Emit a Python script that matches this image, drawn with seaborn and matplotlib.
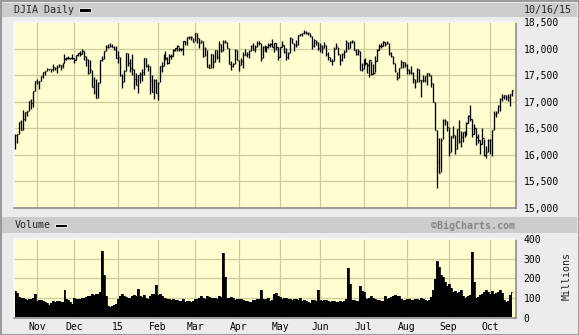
import numpy as np
import pandas as pd
import matplotlib
matplotlib.use("Agg")
import matplotlib.pyplot as plt
import seaborn as sns
from matplotlib.patches import Rectangle

# ---------------- data ----------------
first_day = "2014-10-17"
last_day = "2015-10-16"
holidays = ["2014-11-27", "2014-12-25", "2015-01-01", "2015-01-19", "2015-02-16",
            "2015-04-03", "2015-05-25", "2015-07-03", "2015-09-07"]

close = [16380, 16400, 16615, 16462, 16677, 16805, 16818, 17006, 16975, 17196, 17391,
         17366, 17384, 17484, 17554, 17573, 17613, 17615, 17612, 17652, 17635, 17648,
         17688, 17685, 17720, 17810, 17818, 17815, 17828, 17828, 17777, 17880, 17913,
         17901, 17959, 17853, 17801, 17533, 17597, 17281, 17180, 17068, 17356, 17778,
         17805, 17959, 18024, 18030, 18053, 18038, 17983, 17823, 17833, 17501, 17371,
         17585, 17908, 17737, 17640, 17613, 17427, 17321, 17512, 17515, 17554, 17814,
         17672, 17678, 17387, 17191, 17416, 17165, 17361, 17666, 17673, 17885, 17825,
         17730, 17868, 17863, 17973, 18019, 18047, 17987, 17986, 18141, 18117, 18209,
         18225, 18214, 18133, 18289, 18204, 18097, 18136, 17857, 17996, 17662, 17636,
         17895, 17749, 17977, 17849, 18077, 17959, 18128, 18116, 18011, 17718, 17678,
         17713, 17977, 17776, 17698, 17763, 17881, 17876, 17903, 17958, 18057, 17977,
         18037, 18113, 18106, 17826, 18034, 17950, 18038, 18058, 18080, 18038, 18110,
         18036, 17841, 18024, 18070, 17928, 17842, 17925, 18191, 18105, 18069, 18060,
         18252, 18272, 18298, 18312, 18285, 18285, 18232, 18042, 18163, 18126, 18011,
         18041, 18011, 18076, 17906, 17849, 17766, 17765, 18001, 18040, 17899, 17792,
         17905, 17935, 18116, 18015, 18120, 18144, 17967, 17891, 17947, 17597, 17620,
         17758, 17731, 17684, 17776, 17515, 17549, 17760, 17978, 18054, 18051, 18121,
         18087, 18101, 17920, 17851, 17732, 17569, 17441, 17631, 17752, 17746, 17690,
         17599, 17551, 17541, 17420, 17373, 17615, 17403, 17402, 17409, 17477, 17546,
         17512, 17349, 16990, 16460, 15871, 15666, 16285, 16655, 16643, 16528, 16058,
         16351, 16374, 16102, 16492, 16253, 16330, 16433, 16370, 16599, 16740, 16675,
         16384, 16510, 16330, 16280, 16201, 16315, 16001, 16049, 16285, 16272, 16472,
         16777, 16791, 16912, 17050, 17084, 17131, 17082, 17081, 17141, 17216]

high = [16400, 16400, 16615, 16651, 16836, 16810, 16818, 17006, 17058, 17196, 17395,
        17428, 17397, 17484, 17558, 17577, 17626, 17625, 17615, 17705, 17658, 17684,
        17703, 17690, 17720, 17895, 17844, 17854, 17829, 17895, 17830, 17884, 17914,
        17960, 17991, 17958, 17853, 17801, 17789, 17596, 17470, 17426, 17374, 17779,
        17869, 17963, 18069, 18086, 18104, 18081, 18039, 18043, 17952, 17838, 17513,
        17597, 17916, 17917, 17800, 17900, 17611, 17543, 17512, 17562, 17608, 17817,
        17814, 17701, 17678, 17495, 17431, 17424, 17362, 17667, 17752, 17902, 17951,
        17837, 17892, 17890, 17988, 18020, 18063, 18038, 18010, 18147, 18140, 18224,
        18244, 18245, 18207, 18289, 18288, 18203, 18169, 18136, 18023, 17975, 17717,
        17899, 17896, 17978, 17977, 18135, 18077, 18160, 18160, 18130, 18015, 17762,
        17731, 17990, 17977, 17776, 17820, 17930, 17984, 17941, 17968, 18062, 18105,
        18074, 18142, 18139, 18105, 18050, 18069, 18055, 18110, 18105, 18175, 18111,
        18110, 18036, 18025, 18137, 18071, 18002, 17943, 18209, 18195, 18104, 18162,
        18253, 18279, 18302, 18351, 18331, 18304, 18286, 18233, 18183, 18164, 18126,
        18101, 18059, 18127, 18076, 17928, 17850, 17798, 18024, 18101, 18038, 17899,
        17918, 17976, 18155, 18117, 18145, 18152, 18145, 18000, 17987, 17946, 17737,
        17812, 17814, 17732, 17776, 17775, 17717, 17858, 17983, 18081, 18099, 18141,
        18128, 18137, 18102, 17929, 17861, 17734, 17568, 17632, 17788, 17751, 17750,
        17705, 17611, 17665, 17550, 17419, 17642, 17614, 17402, 17511, 17485, 17548,
        17546, 17511, 17348, 16990, 16459, 16312, 16312, 16666, 16667, 16640, 16528,
        16352, 16551, 16373, 16493, 16664, 16450, 16434, 16444, 16620, 16755, 16933,
        16674, 16582, 16509, 16397, 16281, 16504, 16305, 16174, 16301, 16294, 16473,
        16834, 16823, 16941, 17062, 17142, 17131, 17133, 17140, 17143, 17217]

low = [16117, 16217, 16400, 16459, 16462, 16640, 16725, 16818, 16867, 16902, 17197,
       17329, 17238, 17384, 17437, 17497, 17570, 17593, 17555, 17584, 17591, 17540,
       17645, 17590, 17627, 17721, 17785, 17805, 17804, 17806, 17727, 17778, 17868,
       17859, 17902, 17784, 17668, 17514, 17534, 17280, 17151, 17067, 17069, 17357,
       17765, 17805, 17960, 18011, 18030, 18034, 17970, 17821, 17731, 17489, 17262,
       17372, 17586, 17678, 17561, 17512, 17243, 17310, 17158, 17355, 17399, 17508,
       17655, 17578, 17136, 17185, 17047, 17163, 17038, 17363, 17556, 17677, 17776,
       17711, 17731, 17801, 17866, 17949, 17960, 17948, 17946, 17872, 18070, 18068,
       18172, 18164, 18133, 18134, 18114, 18012, 18097, 17837, 17856, 17660, 17635,
       17637, 17630, 17749, 17808, 17743, 17937, 17960, 18101, 18009, 17716, 17599,
       17646, 17714, 17776, 17579, 17695, 17638, 17875, 17850, 17817, 17957, 17976,
       17931, 18037, 18072, 17757, 17828, 17949, 17930, 18009, 18034, 18027, 17939,
       17977, 17794, 17842, 18025, 17916, 17778, 17795, 17926, 18104, 17950, 18031,
       18060, 18238, 18231, 18281, 18265, 18248, 18219, 17991, 18036, 18071, 17967,
       17944, 17913, 18012, 17867, 17778, 17763, 17683, 17766, 18001, 17872, 17683,
       17766, 17822, 17936, 17988, 18016, 18104, 17966, 17886, 17880, 17596, 17587,
       17621, 17694, 17543, 17465, 17502, 17516, 17550, 17761, 17978, 18017, 18053,
       18057, 18087, 17880, 17844, 17714, 17557, 17400, 17441, 17630, 17637, 17656,
       17520, 17513, 17521, 17359, 17263, 17375, 17364, 17091, 17366, 17375, 17321,
       17482, 17273, 16990, 16459, 15370, 15651, 15676, 16290, 16553, 16451, 15980,
       16059, 16319, 16012, 16102, 16221, 16145, 16245, 16330, 16372, 16598, 16639,
       16344, 16385, 16177, 16222, 16016, 16200, 15981, 15943, 16051, 16014, 15979,
       16476, 16706, 16792, 16823, 17020, 17054, 17030, 17021, 16925, 17111]

volume = [136, 125, 104, 100, 100, 95, 88, 92, 92, 98, 122,
          85, 88, 90, 86, 80, 74, 66, 72, 82, 80, 84, 82, 78, 80, 140,
          95, 88, 80, 70,
          100, 95, 92, 95, 100, 98, 105, 112, 108, 118, 115, 122, 118, 128, 341,
          215, 110, 58, 52, 60, 62, 70, 95,
          110, 118, 112, 105, 100, 98, 108, 115, 110, 143,
          110, 105, 115, 100, 95, 112, 118, 120, 166,
          115, 118, 110, 100, 98, 92, 96, 90, 92, 88,
          90, 85, 82, 95, 80, 82, 85, 78, 82,
          92, 95, 98, 108, 100, 95, 112, 105, 100, 98, 100, 95, 112, 105, 328,
          205, 100, 98, 105, 100, 90, 95,
          95, 92, 88, 85, 82, 80, 78, 88, 90, 95, 92, 138,
          95, 88, 92, 100, 85, 90, 118, 125, 110, 105,
          92, 98, 100, 95, 92, 90, 92, 95, 88, 100, 85, 88, 82, 80, 75,
          90, 88, 85, 140,
          88, 85, 88, 90, 85, 80, 82, 85, 80, 78, 82, 80, 85, 95, 251,
          170, 90, 88, 85, 82, 160, 135, 130, 100,
          95, 100, 110, 98, 95, 90, 88, 85, 82, 110,
          95, 100, 105, 110, 115, 108, 112, 95, 90, 88,
          95, 92, 90, 88, 95, 92, 90, 100, 92, 88, 85, 90, 105, 140, 195,
          290, 255, 215, 205, 180, 160, 170, 150, 130, 135, 125, 130, 140, 110,
          100, 105, 110, 115, 333, 180, 100, 105, 115, 120,
          130, 140, 128, 120, 135, 120, 125, 130, 140, 125,
          90, 80, 85, 115, 130]

month_labels = ["Nov", "Dec", "15", "Feb", "Mar", "Apr", "May", "Jun", "Jul", "Aug", "Sep", "Oct"]
price_ticks = [15000, 15500, 16000, 16500, 17000, 17500, 18000, 18500]
volume_ticks = [0, 100, 200, 300, 400]

# ---------------- build frame ----------------
days = pd.bdate_range(first_day, last_day)
days = days[~days.isin(pd.to_datetime(holidays))]
n = len(days)
assert n == len(close) == len(high) == len(low) == len(volume), (n, len(close), len(high), len(low), len(volume))
df = pd.DataFrame({"date": days, "idx": np.arange(n), "close": close,
                   "high": high, "low": low, "volume": volume})
month_start = df.index[df["date"].dt.month != df["date"].dt.month.shift(1)].tolist()[1:]

# ---------------- style ----------------
sns.set_style("white")
plt.rcParams['font.family'] = ['DejaVu Sans Mono', 'DejaVu Sans']

W, H = 579, 335
BG = '#ececec'
PANEL = '#fefed0'
GRID = '#cccc99'
HEAD = '#cccccc'
fig = plt.figure(figsize=(W / 100, H / 100), dpi=100, facecolor=BG)


def fx(x):
    return x / W


def fy(y):
    return 1 - y / H


# header bars
fig.patches.append(Rectangle((fx(2), fy(17)), fx(575), 13.5 / H, transform=fig.transFigure,
                             facecolor=HEAD, edgecolor='none', zorder=0))
fig.patches.append(Rectangle((fx(2), fy(233)), fx(575), 16 / H, transform=fig.transFigure,
                             facecolor=HEAD, edgecolor='none', zorder=0))
fig.patches.append(Rectangle((0, 0), 1, 1, transform=fig.transFigure, fill=False,
                             edgecolor='#9a9a9a', lw=2.2, zorder=5))

XL = (-0.5, 253)

ax_p = fig.add_axes([fx(14), fy(208), 502 / W, 186 / H])
ax_v = fig.add_axes([fx(14), fy(317.5), 502 / W, 78.5 / H])

for ax in (ax_p, ax_v):
    ax.set_facecolor(PANEL)
    ax.set_xlim(*XL)
    for m in month_start:
        ax.axvline(m, color=GRID, lw=0.9, zorder=0.5)
    ax.spines['top'].set_color('#f8f8f8')
    ax.spines['left'].set_color('#f8f8f8')
    ax.spines['right'].set_color('#8c8c8c')
    ax.spines['bottom'].set_color('#8c8c8c')
    for s in ax.spines.values():
        s.set_linewidth(1.2)
    ax.yaxis.tick_right()
    ax.tick_params(axis='y', length=0, labelsize=7, pad=5.5, colors='black')

# ---- price panel (HLC bars) ----
ax_p.set_ylim(price_ticks[0], price_ticks[-1])
for v in price_ticks[1:-1]:
    ax_p.axhline(v, color=GRID, lw=0.9, zorder=0.5)
ax_p.vlines(df["idx"], df["low"], df["high"], color='black', lw=0.95, zorder=3)
ax_p.hlines(df["close"], df["idx"], df["idx"] + 0.6, color='black', lw=0.95, zorder=3)
ax_p.set_yticks(price_ticks)
ax_p.set_yticklabels([f"{v:,}" for v in price_ticks])
ax_p.set_xticks([])
ax_p.set_xlabel("")
ax_p.set_ylabel("")

# ---- volume panel ----
ax_v.set_ylim(volume_ticks[0], volume_ticks[-1])
for v in volume_ticks[1:-1]:
    ax_v.axhline(v, color=GRID, lw=0.9, zorder=0.5)
ax_v.fill_between(df["idx"], 0, df["volume"], step='mid', color='black', lw=0, zorder=2)
sns.lineplot(data=df, x="idx", y="volume", ax=ax_v, color='black', lw=0.6,
             drawstyle='steps-mid', zorder=3)
ax_v.set_xlim(*XL)
ax_v.set_yticks(volume_ticks)
ax_v.set_yticklabels([str(v) for v in volume_ticks])
ax_v.set_xticks(month_start)
ax_v.set_xticklabels(month_labels)
ax_v.tick_params(axis='x', length=0, labelsize=7, pad=3, colors='black')
ax_v.set_xlabel("")
ax_v.set_ylabel("")

# ---- texts ----
fig.text(fx(14.5), fy(10), "DJIA Daily", fontsize=7.2, ha='left', va='center')
fig.patches.append(Rectangle((fx(79), fy(11.6)), 12 / W, 3.2 / H, transform=fig.transFigure,
                             facecolor='black', edgecolor='white', lw=0.6, zorder=2))
fig.text(fx(572), fy(9.8), "10/16/15", fontsize=7.2, ha='right', va='center')
fig.text(fx(14.5), fy(225.5), "Volume", fontsize=7.2, ha='left', va='center')
fig.patches.append(Rectangle((fx(55), fy(227.3)), 12 / W, 3.2 / H, transform=fig.transFigure,
                             facecolor='black', edgecolor='white', lw=0.6, zorder=2))
fig.text(fx(515), fy(225.5), "\u00a9BigCharts.com", fontsize=7.2, ha='right', va='center',
         color='#858585', fontweight='bold')
fig.text(fx(566.5), fy(275.5), "Millions", fontsize=7.2, ha='center', va='center', rotation=90)

fig.savefig("out.png", dpi=100, facecolor=BG)
